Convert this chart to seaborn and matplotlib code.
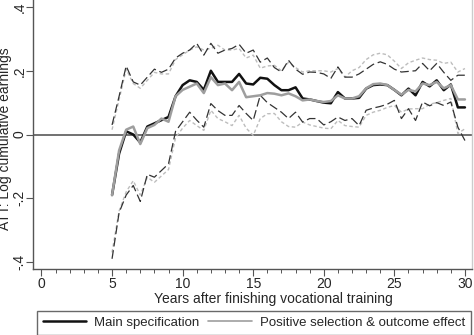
import numpy as np
import pandas as pd
import matplotlib
matplotlib.use("Agg")
import matplotlib.pyplot as plt
import seaborn as sns
from matplotlib.lines import Line2D

years = [5, 5.5, 6, 6.5, 7, 7.5, 8, 8.5, 9, 9.5, 10, 10.5, 11, 11.5, 12, 12.5, 13, 13.5,
         14, 14.5, 15, 15.5, 16, 16.5, 17, 17.5, 18, 18.5, 19, 19.5, 20, 20.5, 21, 21.5,
         22, 22.5, 23, 23.5, 24, 24.5, 25, 25.5, 26, 26.5, 27, 27.5, 28, 28.5, 29, 29.5, 30]

main_att = [-0.19, -0.06, 0.01, 0.0, -0.025, 0.025, 0.035, 0.045, 0.055, 0.12, 0.155, 0.17,
            0.165, 0.14, 0.2, 0.165, 0.165, 0.165, 0.19, 0.16, 0.157, 0.178, 0.175, 0.155,
            0.139, 0.139, 0.148, 0.113, 0.11, 0.105, 0.1, 0.098, 0.133, 0.113, 0.113, 0.115,
            0.144, 0.155, 0.157, 0.155, 0.14, 0.123, 0.144, 0.123, 0.165, 0.151, 0.17, 0.139,
            0.157, 0.085, 0.085]
main_upper = [0.03, 0.12, 0.215, 0.165, 0.155, 0.18, 0.205, 0.195, 0.205, 0.24, 0.255, 0.265,
              0.286, 0.249, 0.286, 0.255, 0.265, 0.27, 0.283, 0.255, 0.265, 0.227, 0.24, 0.21,
              0.196, 0.233, 0.205, 0.189, 0.196, 0.195, 0.19, 0.176, 0.212, 0.18, 0.18, 0.19,
              0.205, 0.22, 0.228, 0.22, 0.205, 0.196, 0.198, 0.2, 0.223, 0.2, 0.223, 0.195,
              0.17, 0.186, 0.186]
main_lower = [-0.39, -0.245, -0.19, -0.16, -0.21, -0.125, -0.134, -0.113, -0.092, 0.01, 0.04,
              0.07, 0.045, 0.023, 0.097, 0.075, 0.06, 0.06, 0.091, 0.066, 0.044, 0.123, 0.1,
              0.085, 0.07, 0.05, 0.07, 0.039, 0.05, 0.05, 0.03, 0.04, 0.055, 0.044, 0.05, 0.028,
              0.076, 0.083, 0.088, 0.095, 0.107, 0.05, 0.081, 0.044, 0.102, 0.09, 0.1, 0.091,
              0.102, 0.023, -0.019]

pos_att = [-0.19, -0.05, 0.015, 0.025, -0.03, 0.02, 0.03, 0.05, 0.04, 0.12, 0.14, 0.15, 0.16,
           0.13, 0.18, 0.155, 0.16, 0.139, 0.165, 0.117, 0.12, 0.123, 0.13, 0.128, 0.123,
           0.129, 0.12, 0.107, 0.11, 0.105, 0.102, 0.105, 0.123, 0.113, 0.113, 0.12, 0.145,
           0.158, 0.16, 0.155, 0.14, 0.125, 0.14, 0.135, 0.16, 0.155, 0.165, 0.145, 0.155,
           0.11, 0.11]
pos_upper = [0.015, 0.11, 0.205, 0.16, 0.145, 0.17, 0.195, 0.19, 0.19, 0.235, 0.25, 0.265,
             0.275, 0.265, 0.27, 0.28, 0.265, 0.265, 0.27, 0.24, 0.249, 0.208, 0.215, 0.217,
             0.2, 0.227, 0.21, 0.196, 0.2, 0.2, 0.2, 0.196, 0.207, 0.18, 0.2, 0.21, 0.235,
             0.25, 0.255, 0.25, 0.23, 0.207, 0.225, 0.233, 0.24, 0.235, 0.233, 0.223, 0.227,
             0.196, 0.207]
pos_lower = [-0.37, -0.24, -0.18, -0.145, -0.19, -0.134, -0.15, -0.13, -0.11, -0.01, 0.02,
             0.044, 0.028, 0.013, 0.076, 0.05, 0.04, 0.028, 0.06, 0.02, -0.003, 0.05, 0.065,
             0.066, 0.04, 0.025, 0.023, 0.039, 0.03, 0.025, 0.02, 0.018, 0.044, 0.028, 0.025,
             0.023, 0.06, 0.07, 0.076, 0.085, 0.091, 0.07, 0.08, 0.081, 0.081, 0.095, 0.1,
             0.107, 0.113, 0.003, 0.018]

x_ticks = [0, 5, 10, 15, 20, 25, 30]
y_ticks = [-0.4, -0.2, 0, 0.2, 0.4]
y_tick_labels = ["-.4", "-.2", "0", ".2", ".4"]
legend_labels = ["Main specification", "Positive selection & outcome effect"]

df = pd.DataFrame({"year": years, "main": main_att, "main_up": main_upper, "main_lo": main_lower,
                   "pos": pos_att, "pos_up": pos_upper, "pos_lo": pos_lower})

sns.set_style("white")
plt.rcParams["font.family"] = ["Liberation Sans", "DejaVu Sans"]

fig = plt.figure(figsize=(4.74, 3.35), dpi=100)
ax = fig.add_axes([33 / 474, 66 / 335, (472 - 33) / 474, 1 - 66 / 335])

axis_col = "#555555"
ax.axhline(0, color="#666666", lw=1.3, zorder=1)

dash_dark = (0, (7, 3))
dash_light = (0, (2.5, 1.8))
sns.lineplot(data=df, x="year", y="pos_up", ax=ax, color="#bdbdbd", lw=1.0, linestyle=dash_light)
sns.lineplot(data=df, x="year", y="pos_lo", ax=ax, color="#bdbdbd", lw=1.0, linestyle=dash_light)
sns.lineplot(data=df, x="year", y="main_up", ax=ax, color="#333333", lw=0.9, linestyle=dash_dark)
sns.lineplot(data=df, x="year", y="main_lo", ax=ax, color="#333333", lw=0.9, linestyle=dash_dark)
sns.lineplot(data=df, x="year", y="main", ax=ax, color="#111111", lw=1.8)
sns.lineplot(data=df, x="year", y="pos", ax=ax, color="#9e9e9e", lw=1.8)

ax.set_xlim(-0.6, 30.5)
ax.set_ylim(-0.422, 0.422)
ax.set_xticks(x_ticks)
ax.set_xticks(np.arange(0, 31, 1), minor=True)
ax.set_yticks(y_ticks)
ax.set_yticklabels(y_tick_labels, rotation=90, va="center")
ax.tick_params(axis="both", which="major", direction="out", length=5, width=0.8,
               color=axis_col, labelsize=10, pad=0.5, bottom=True, left=True)
ax.tick_params(axis="y", which="major", pad=-0.5)
ax.tick_params(axis="x", which="minor", direction="out", length=3, width=0.7,
               color=axis_col, bottom=True)
ax.set_xlabel("Years after finishing vocational training", fontsize=10)
ax.set_ylabel("ATT: Log cumulative earnings", fontsize=10)
ax.xaxis.set_label_coords((273 - 33) / 439, -22.5 / 269)
ax.yaxis.set_label_coords(-20.5 / 439, 0.485)

ax.spines["top"].set_visible(False)
ax.spines["right"].set_color("#cccccc")
ax.spines["right"].set_linewidth(1.0)
for s in ["left", "bottom"]:
    ax.spines[s].set_color(axis_col)
    ax.spines[s].set_linewidth(1.0)

handles = [Line2D([0], [0], color="#111111", lw=1.8),
           Line2D([0], [0], color="#9e9e9e", lw=1.2)]
leg = fig.legend(handles, legend_labels, loc="lower left",
                 bbox_to_anchor=(37 / 474, 0.0, (471 - 37) / 474, 24 / 335), mode="expand",
                 ncol=2, fontsize=9.5, frameon=True, fancybox=False, handlelength=3.3,
                 borderpad=0.45, borderaxespad=0.0, columnspacing=1.2, handletextpad=0.6)
leg.get_frame().set_edgecolor("#444444")
leg.get_frame().set_linewidth(1.0)

fig.savefig("out.png", dpi=100)
